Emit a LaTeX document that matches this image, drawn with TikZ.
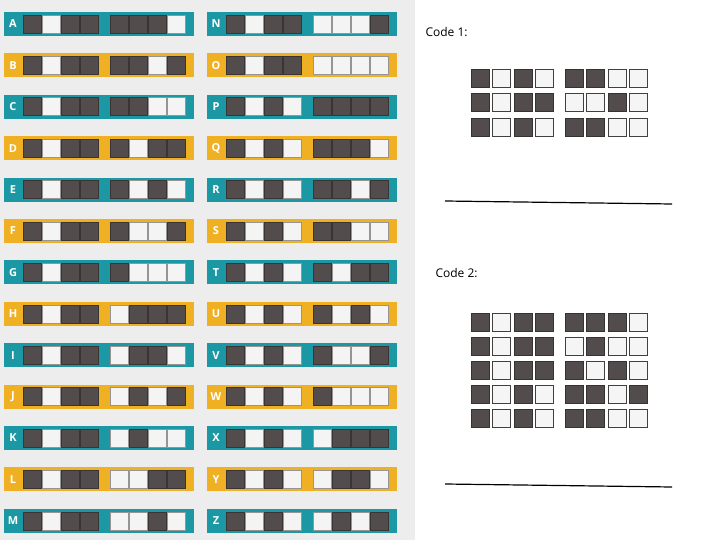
\documentclass[tikz,border=0pt]{standalone}
\usepackage{fontspec}
\setmainfont{Open Sans}
\definecolor{teal}{HTML}{1B98A4}
\definecolor{gold}{HTML}{F0B023}
\definecolor{dk}{HTML}{524C4C}
\definecolor{lt}{HTML}{F4F4F4}
\begin{document}
\begin{tikzpicture}[x=1pt,y=-1pt,
  bit0/.style={fill=dk,draw=dk!70!black,line width=0.6pt},
  bit1/.style={fill=lt,draw=dk!60,line width=0.6pt},
  cbit0/.style={fill=dk,draw=black!80,line width=0.9pt},
  cbit1/.style={fill=white!96!black,draw=black!75,line width=0.9pt},
  lettr/.style={text=white,font=\bfseries\fontsize{11}{11}\selectfont,anchor=center},
  captxt/.style={font=\fontsize{12}{14}\selectfont,anchor=west}]
\useasboundingbox (0,0) rectangle (720,540);
\fill[white] (0,0) rectangle (720,540);
\fill[black!7] (0,0) rectangle (415,540);
\foreach \i in {0,...,25}{
  \pgfmathtruncatemacro{\col}{\i/13}
  \pgfmathtruncatemacro{\row}{mod(\i,13)}
  \pgfmathsetmacro{\ox}{\col*203}
  \pgfmathsetmacro{\cy}{24+41.4*\row}
  \pgfmathtruncatemacro{\iseven}{mod(\row,2)}
  \pgfmathtruncatemacro{\code}{65+\i}
  \ifnum\iseven=0 \def\bc{teal}\else\def\bc{gold}\fi
  \fill[\bc] (4+\ox,\cy-12) rectangle (194+\ox,\cy+12);
  \node[lettr] at (13+\ox,\cy) {\char\code};
  \foreach \b in {0,...,7}{
    \pgfmathtruncatemacro{\bit}{mod(floor(\code/2^(7-\b)),2)}
    \pgfmathsetmacro{\sx}{23+\ox+19.2*\b+(\b>3)*10}
    \path[bit\bit] (\sx,\cy-9) rectangle ++(18,18);
  }
}
\node[captxt] (c1) at (422,32) {Code 1:};
\node[captxt] (c2) at (432,273) {Code 2:};
\foreach \r/\bits in {0/{0,1,0,1,0,0,1,1},1/{0,1,0,0,1,1,0,1},2/{0,1,0,1,0,0,1,1}}{
  \foreach \bit [count=\b from 0] in \bits {
    \pgfmathsetmacro{\sx}{471+21.5*\b+(\b>3)*8}
    \path[cbit\bit] (\sx,69+24.5*\r) rectangle ++(18,18);
  }
}
\foreach \r/\bits in {0/{0,1,0,0,0,0,0,1},1/{0,1,0,0,1,0,1,1},2/{0,1,0,0,0,1,0,1},3/{0,1,0,1,0,0,1,0},4/{0,1,0,1,0,0,1,1}}{
  \foreach \bit [count=\b from 0] in \bits {
    \pgfmathsetmacro{\sx}{471+21.5*\b+(\b>3)*8}
    \path[cbit\bit] (\sx,313+24*\r) rectangle ++(18,18);
  }
}
\coordinate (l1a) at (445,201); \coordinate (l1b) at (672,204);
\coordinate (l2a) at (445,484); \coordinate (l2b) at (672,487);
\draw[line width=1.2pt] (l1a) -- (l1b);
\draw[line width=1.2pt] (l2a) -- (l2b);
\end{tikzpicture}
\end{document}
